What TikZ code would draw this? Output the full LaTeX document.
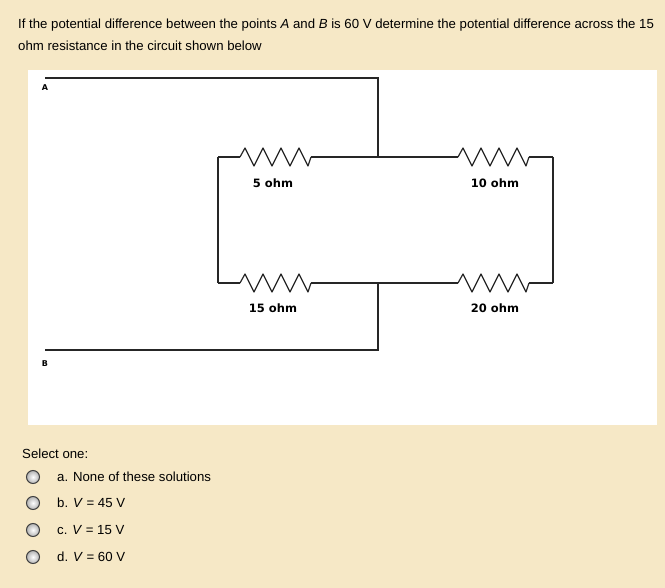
\documentclass[tikz,border=0pt]{standalone}
\usepackage{fontspec}
\setmainfont{Liberation Sans}
\newfontfamily\dvb{DejaVu Sans}
\definecolor{bg}{HTML}{F6E8C6}
\begin{document}
\begin{tikzpicture}[x=1pt,y=-1pt,
  wire/.style={line width=1.2pt,black!85},
  txt/.style={anchor=west,inner sep=0,font=\fontsize{13.2}{15}\selectfont},
  lab/.style={inner sep=0,font=\dvb\bfseries\fontsize{11.5}{13}\selectfont},
  radio/.style={circle,draw=black!75,line width=1pt,inner sep=0,minimum size=13pt,shade,inner color=white,outer color=black!30}]
\useasboundingbox (0,0) rectangle (665,588);
\fill[bg] (0,0) rectangle (665,588);
\fill[white] (28,70) rectangle (657,425);
\node[txt] (q1) at (18,25) {If the potential difference between the points \textit{A} and \textit{B} is 60 V determine the potential difference across the 15};
\node[txt] (q2) at (18,46) {ohm resistance in the circuit shown below};
\coordinate (A) at (45,78); \coordinate (At) at (378,78); \coordinate (Tm) at (378,157);
\coordinate (TL) at (218,157); \coordinate (TR) at (553,157);
\coordinate (BL) at (218,283); \coordinate (BR) at (553,283); \coordinate (Bm) at (378,283);
\coordinate (Bb) at (378,350); \coordinate (B) at (45,350);
\node[lab,font=\dvb\bfseries\fontsize{8}{9}\selectfont] (la) at (45,88) {A};
\node[lab,font=\dvb\bfseries\fontsize{8}{9}\selectfont] (lb) at (45,364) {B};
\draw[wire] (A) -- (At) -- (Tm);
\draw[wire] (Bm) -- (Bb) -- (B);
\draw[wire] (TL) -- (BL);
\draw[wire] (TR) -- (BR);
\newcommand\zres[2]{%
  \begin{scope}[shift={(#1,#2)}]
  \draw[wire,line join=round] (0,0) -- (5,-9) -- (14,9) -- (23,-9) -- (32,9) -- (41,-9) -- (50,9) -- (59,-9) -- (68,9) -- (71,0);
  \end{scope}}
\draw[wire] (TL) -- (240,157); \zres{240}{157} \draw[wire] (311,157) -- (458,157);
\zres{458}{157} \draw[wire] (529,157) -- (TR);
\draw[wire] (BL) -- (240,283); \zres{240}{283} \draw[wire] (311,283) -- (458,283);
\zres{458}{283} \draw[wire] (529,283) -- (BR);
\node[lab] (r5) at (273,183) {5 ohm};
\node[lab] (r10) at (495,183) {10 ohm};
\node[lab] (r15) at (273,308) {15 ohm};
\node[lab] (r20) at (495,308) {20 ohm};
\node[txt] (sel) at (22,454) {Select one:};
\foreach \y/\t [count=\i] in {477/{a. None of these solutions},503/{b. \textit{V} = 45 V},530/{c. \textit{V} = 15 V},557/{d. \textit{V} = 60 V}}{
  \node[radio] (c\i) at (33,\y) {};
  \node[txt] (o\i) at (57,\y) {\t};
}
\end{tikzpicture}
\end{document}
